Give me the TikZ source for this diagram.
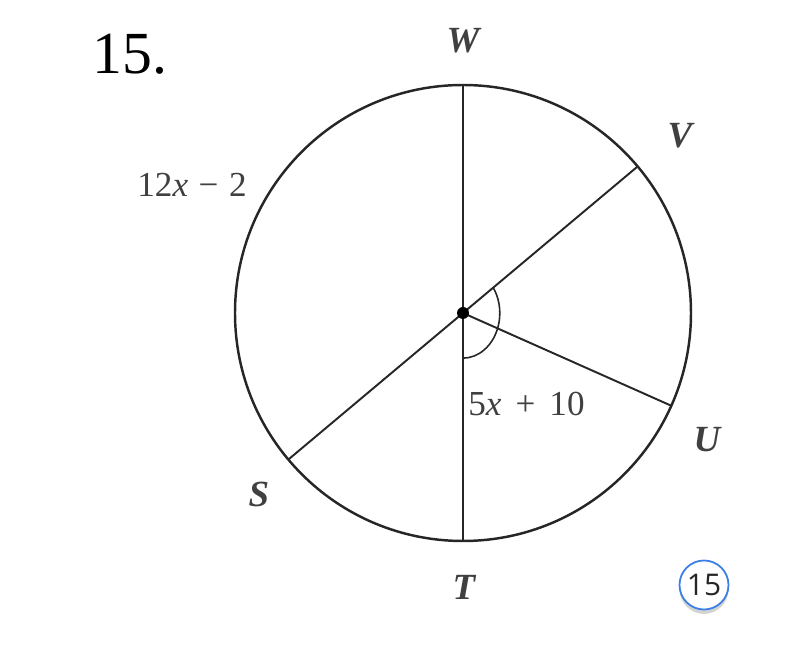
\documentclass[tikz,border=0pt]{standalone}
\usepackage{fontspec}
\setmainfont{Liberation Serif}
\newfontfamily\badgefont{Open Sans}
\usepackage{tikz}
\usetikzlibrary{shadows}
\definecolor{badgeblue}{HTML}{3A7FE8}

\begin{document}
\begin{tikzpicture}[
  pt/.style={font=\fontsize{21}{24}\selectfont\bfseries\itshape, text=black!75},
  expr/.style={font=\fontsize{20}{24}\selectfont, text=black!75},
  spoke/.style={line width=1.1pt, black!85},
  ]

\useasboundingbox (-9.26,-6.68) rectangle (6.76,6.26);

\coordinate (O) at (0,0);
\coordinate (W) at (90:4.56);
\coordinate (V) at (40:4.56);
\coordinate (U) at (-24:4.56);
\coordinate (T) at (270:4.56);
\coordinate (S) at (220:4.56);

\draw[line width=1.4pt, black!85] (O) circle (4.56);

\draw[spoke] (O) -- (W);
\draw[spoke] (O) -- (V);
\draw[spoke] (O) -- (U);
\draw[spoke] (O) -- (T);
\draw[spoke] (O) -- (S);

\draw[line width=0.9pt, black!85] (40:0.79) arc[start angle=34.6, end angle=-90, x radius=0.74, y radius=0.9];
\fill (O) circle (0.12);

\node[pt] (lW) at (0,5.44) {W};
\node[pt] (lV) at (4.34,3.54) {V};
\node[pt] (lU) at (4.88,-2.54) {U};
\node[pt] (lT) at (0.02,-5.48) {T};
\node[pt] (lS) at (-4.08,-3.62) {S};

\node[expr] (arcWS) at (-5.42,2.56) {12\textit{x}\hspace{0.3em}−\hspace{0.3em}2};
\node[expr, anchor=west, inner sep=0pt] (arcTU) at (0.1,-1.82) {5\textit{x}\hspace{0.4em}+\hspace{0.4em}10};

\node[font=\fontsize{34}{38}\selectfont] (num) at (-6.66,5.18) {15.};

\node[circle, draw=badgeblue, line width=1pt, fill=white, minimum size=0.98cm, inner sep=0pt,
  font=\badgefont\fontsize{17}{19}\selectfont, text=black!85,
  drop shadow={opacity=0.35, shadow xshift=0pt, shadow yshift=-2.5pt}] (badge) at (4.82,-5.44) {15};

\end{tikzpicture}
\end{document}
